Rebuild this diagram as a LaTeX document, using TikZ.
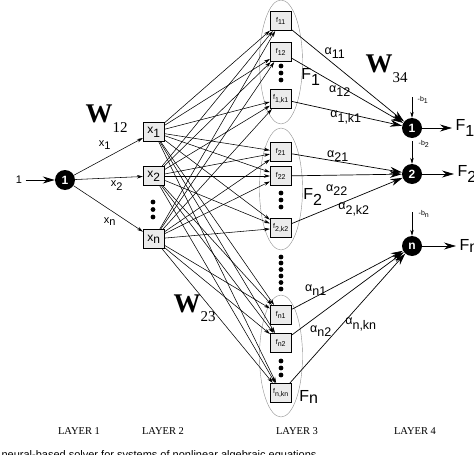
\documentclass[tikz,border=0pt]{standalone}
\usepackage{fontspec}
\setmainfont{Liberation Serif}
\setsansfont{Liberation Sans}
\usetikzlibrary{arrows.meta,shapes}

\newcommand{\sbs}[1]{$_{\textsf{#1}}$}
\newcommand{\wlab}[2]{{\fontsize{27}{27}\selectfont\bfseries W}{\fontsize{15}{15}\selectfont\raisebox{-#2}{#1}}}

\begin{document}
\begin{tikzpicture}[x=1pt, y=-1pt,
    unit/.style={circle, fill=black, text=white, inner sep=0pt, minimum size=20pt, font=\sffamily\bfseries\fontsize{12}{12}\selectfont},
    cell/.style={rectangle, draw, line width=1.1pt, fill=black!8, minimum width=21pt, minimum height=19pt, inner sep=0pt},
    wire/.style={line width=0.55pt, -{Stealth[length=6pt,width=3.5pt]}},
    big/.style={line width=0.8pt, -{Stealth[length=12pt,width=7pt]}},
    lab/.style={font=\sffamily\fontsize{11}{11}\selectfont},
    alab/.style={font=\sffamily\fontsize{12.5}{12.5}\selectfont},
    flab/.style={font=\sffamily\fontsize{16}{16}\selectfont},
    blab/.style={font=\sffamily\fontsize{7}{7}\selectfont},
    layer/.style={font=\fontsize{10.5}{10.5}\selectfont}]

    \useasboundingbox (0,0) rectangle (474,455);

    % layer 1
    \node (inp) [lab] at (19,180) {1};
    \node (one) [unit] at (65,180) {1};
    \draw [big] (inp) -- (one);

    % layer 2
    \node (x1) [cell, font=\sffamily\fontsize{12}{12}\selectfont] at (154,132) {x\sbs{1}};
    \node (x2) [cell, font=\sffamily\fontsize{12}{12}\selectfont] at (154,176) {x\sbs{2}};
    \node (xn) [cell, font=\sffamily\fontsize{12}{12}\selectfont] at (154,239) {x\sbs{n}};
    \foreach \y in {202,209.5,217} \fill (153,\y) circle (2.4pt);

    \draw [wire] (one) -- (x1);
    \draw [wire] (one) -- (x2);
    \draw [wire] (one) -- (xn);
    \node (l1) [lab] at (105,145) {x\sbs{1}};
    \node (l2) [lab] at (117,186) {x\sbs{2}};
    \node (ln) [lab] at (110,222) {x\sbs{n}};
    \node (w12) [anchor=base west] at (82,122) {\wlab{12}{10pt}};

    % layer 3
    \draw [black!45] (281,62) ellipse (21.5 and 62);
    \draw [black!45] (281,189) ellipse (21.5 and 61);
    \draw [black!45] (281,356) ellipse (21.5 and 61);

    \node (f11) [cell, font=\sffamily\fontsize{7}{7}\selectfont] at (281,21) {f\sbs{11}};
    \node (f12) [cell, font=\sffamily\fontsize{7}{7}\selectfont] at (281,52) {f\sbs{12}};
    \node (f1k) [cell, font=\sffamily\fontsize{7}{7}\selectfont] at (281,99) {f\sbs{1,k1}};
    \node (f21) [cell, font=\sffamily\fontsize{7}{7}\selectfont] at (281,152) {f\sbs{21}};
    \node (f22) [cell, font=\sffamily\fontsize{7}{7}\selectfont] at (281,176) {f\sbs{22}};
    \node (f2k) [cell, font=\sffamily\fontsize{7}{7}\selectfont] at (281,228) {f\sbs{2,k2}};
    \node (fn1) [cell, font=\sffamily\fontsize{7}{7}\selectfont] at (281,315) {f\sbs{n1}};
    \node (fn2) [cell, font=\sffamily\fontsize{7}{7}\selectfont] at (281,343) {f\sbs{n2}};
    \node (fnk) [cell, font=\sffamily\fontsize{7}{7}\selectfont] at (281,393) {f\sbs{n,kn}};
    \foreach \y in {66,73,80, 193,200,207, 257,263,269.5,276,282.5,289, 361,368,375}
        \fill (281,\y) circle (2.4pt);

    \foreach \i in {x1,x2,xn}
        \foreach \j in {f11,f12,f1k,f21,f22,f2k,fn1,fn2,fnk}
            \draw [wire] (\i) -- (\j);
    \node (w23) [anchor=base west] at (170,312) {\wlab{23}{9pt}};

    \node (F1) [flab] at (311,77) {F\sbs{1}};
    \node (F2) [flab] at (313,197) {F\sbs{2}};
    \node (Fn) [flab] at (309,397) {F\sbs{n}};

    % layer 4
    \node (o1) [unit] at (412,128) {1};
    \node (o2) [unit] at (412,174) {2};
    \node (on) [unit] at (412,246) {n};

    \foreach \g in {1,2,n}
        \foreach \k in {1,2,k}
            \draw [big, line width=0.7pt] (f\g\k) -- (o\g);

    \node (a11) [alab] at (335,53) {α\sbs{11}};
    \node (a12) [alab] at (340,91) {α\sbs{12}};
    \node (a1k) [alab] at (346,117) {α\sbs{1,k1}};
    \node (a21) [alab] at (338,156) {α\sbs{21}};
    \node (a22) [alab] at (337,190) {α\sbs{22}};
    \node (a2k) [alab] at (354,209) {α\sbs{2,k2}};
    \node (an1) [alab] at (316,290) {α\sbs{n1}};
    \node (an2) [alab] at (321,331) {α\sbs{n2}};
    \node (ank) [alab] at (361,324) {α\sbs{n,kn}};
    \node (w34) [anchor=base west] at (362,72) {\wlab{34}{10pt}};

    \coordinate (b1) at (412,97);
    \coordinate (b2) at (412,141);
    \coordinate (bn) at (412,212);
    \draw [wire] (b1) -- (o1);
    \draw [wire] (b2) -- (o2);
    \draw [wire] (bn) -- (on);
    \node (c1) [blab] at (423,100) {-b\sbs{1}};
    \node (c2) [blab] at (424,144) {-b\sbs{2}};
    \node (cn) [blab] at (424,214) {-b\sbs{n}};

    \node (y1) [flab, anchor=west] at (452,128) {F\sbs{1}};
    \node (y2) [flab, anchor=west] at (454,174) {F\sbs{2}};
    \node (yn) [flab, anchor=west] at (456,246) {F\sbs{n}};
    \draw [big] (o1) -- (y1);
    \draw [big] (o2) -- (y2);
    \draw [big] (on) -- (yn);

    % layer names
    \node (L1) [layer] at (79,431) {LAYER 1};
    \node (L2) [layer] at (163,431) {LAYER 2};
    \node (L3) [layer] at (297,431) {LAYER 3};
    \node (L4) [layer] at (415,431) {LAYER 4};
    \node (cap) [anchor=base east, font=\sffamily\fontsize{11}{11}\selectfont] at (320,458.5) {neural-based solver for systems of nonlinear algebraic equations};
\end{tikzpicture}
\end{document}
